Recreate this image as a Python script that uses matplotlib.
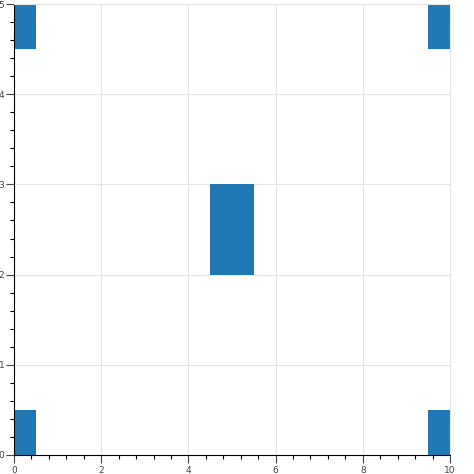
import numpy as np
import matplotlib.pyplot as plt
from matplotlib.patches import Rectangle
from matplotlib.ticker import MultipleLocator

# rect centers and sizes
xs = [0, 10, 0, 10, 5]
ys = [0, 0, 5, 5, 2.5]
widths = [1, 1, 1, 1, 1]
heights = [1, 1, 1, 1, 1]

fig = plt.figure(figsize=(4.74, 4.74), dpi=100)
ax = fig.add_axes([14 / 474, 19 / 474, 436 / 474, 451 / 474])

for x, y, w, h in zip(xs, ys, widths, heights):
    ax.add_patch(Rectangle((x - w / 2, y - h / 2), w, h, facecolor="#1f77b4", edgecolor="none", zorder=2))

ax.set_xlim(0, 10)
ax.set_ylim(0, 5)
ax.xaxis.set_major_locator(MultipleLocator(2))
ax.xaxis.set_minor_locator(MultipleLocator(0.4))
ax.yaxis.set_major_locator(MultipleLocator(1))
ax.yaxis.set_minor_locator(MultipleLocator(0.2))
ax.grid(True, which="major", color="#e5e5e5", linewidth=0.8, zorder=0)

for side in ["top", "right"]:
    ax.spines[side].set_color("#e5e5e5")
for side in ["left", "bottom"]:
    ax.spines[side].set_color("black")
    ax.spines[side].set_linewidth(0.8)

ax.tick_params(which="major", direction="out", length=6, width=0.8, labelsize=6.5, colors="#444444", pad=2)
ax.tick_params(which="minor", direction="out", length=3, width=0.8)
ax.tick_params(axis="y", which="major", pad=1)

fig.savefig("out.png", dpi=100)
